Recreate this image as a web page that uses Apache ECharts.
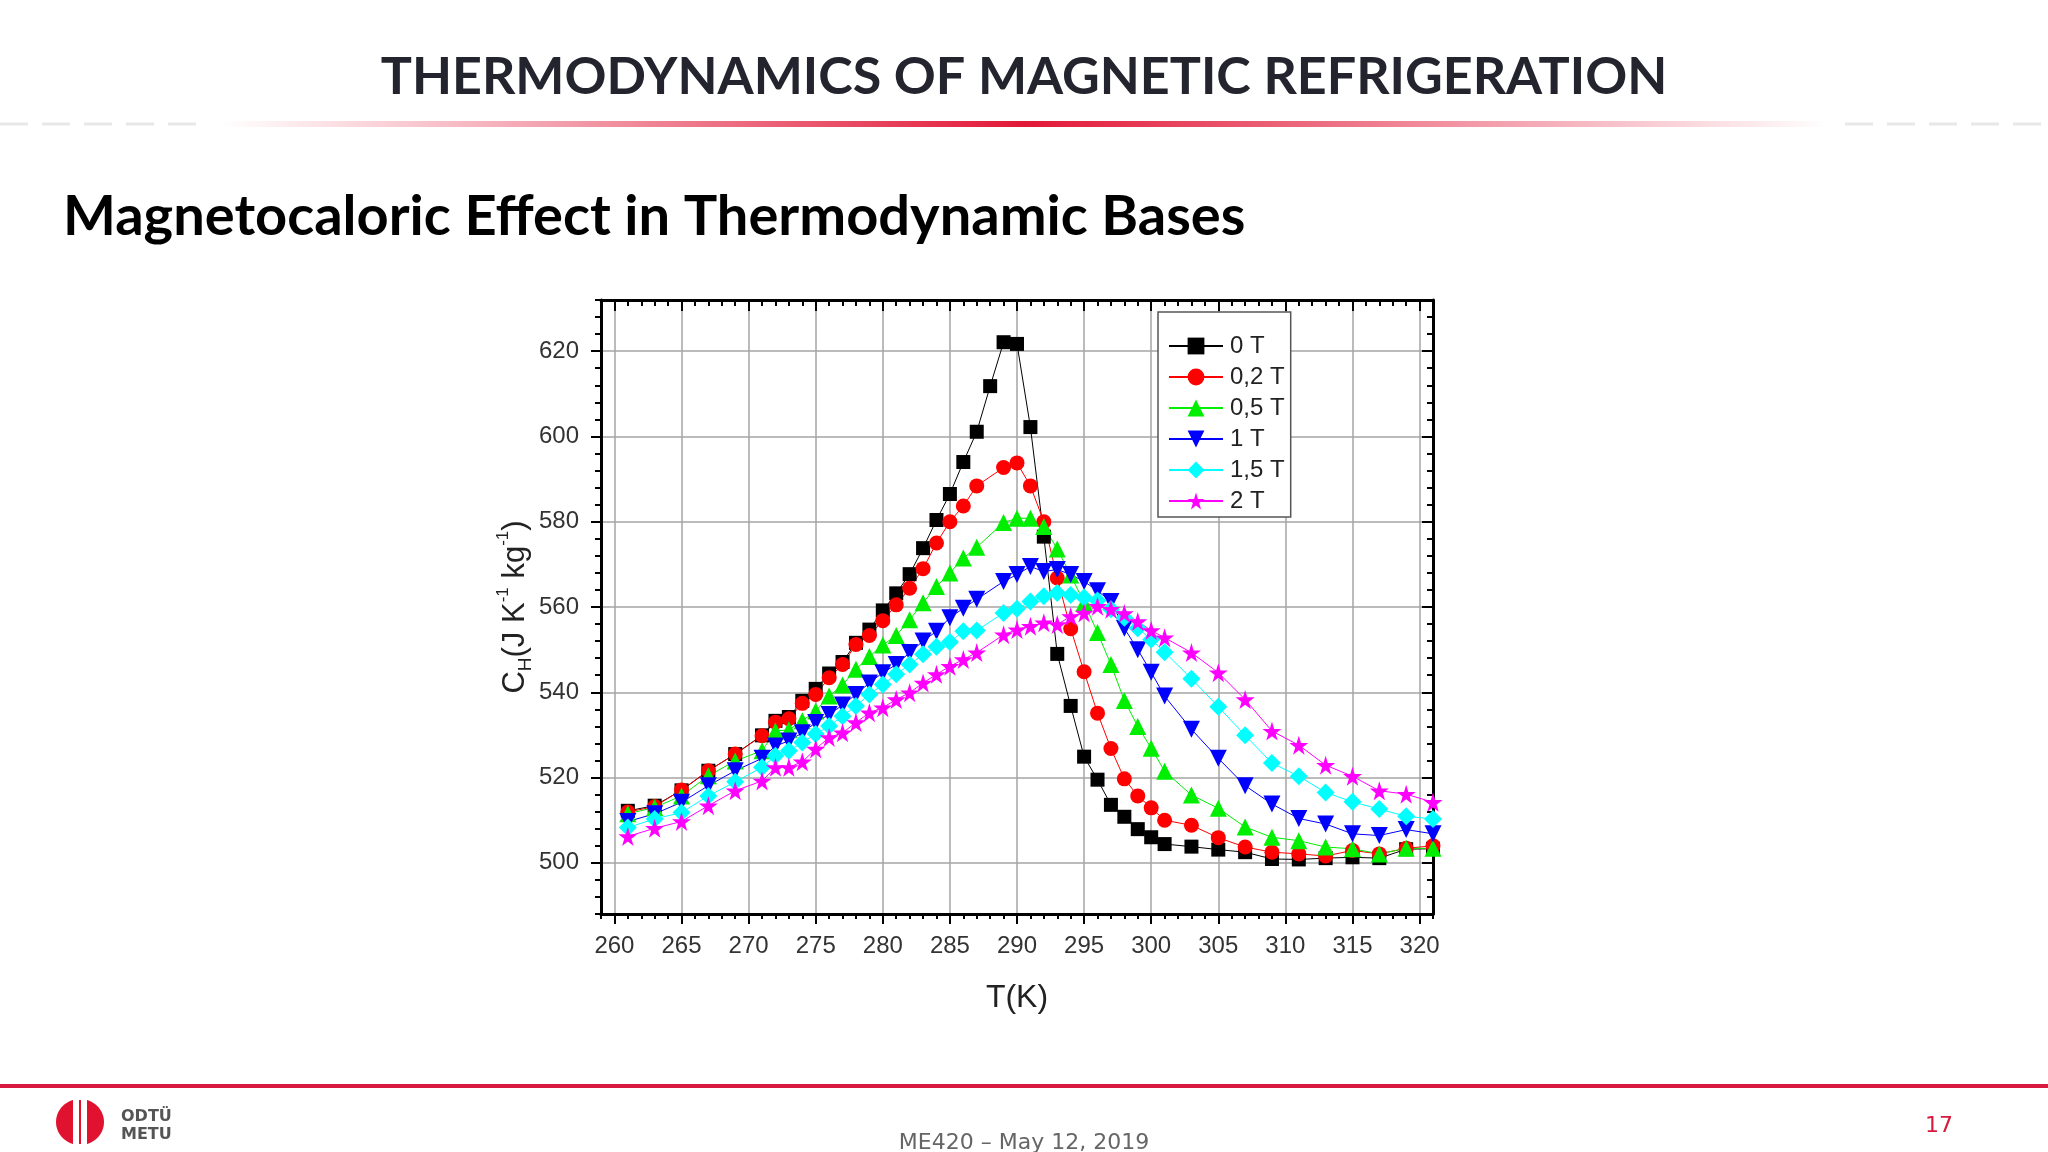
<!DOCTYPE html>
<html>
<head>
<meta charset="utf-8">
<script src="https://cdn.jsdelivr.net/npm/echarts@6/dist/echarts.min.js"></script>
<style>
  html, body { margin: 0; padding: 0; background: #fff; }
  #chart { width: 2048px; height: 1152px; }
</style>
</head>
<body>
<div id="chart"></div>
<script>
// temperatures (K) of the measured points
const tempsZeroField = [261, 263, 265, 267, 269, 271, 272, 273, 274, 275, 276, 277, 278, 279, 280, 281, 282, 283, 284, 285, 286, 287, 288, 289, 290, 291, 292, 293, 294, 295, 296, 297, 298, 299, 300, 301, 303, 305, 307, 309, 311, 313, 315, 317, 319, 321];
const tempsField = [261, 263, 265, 267, 269, 271, 272, 273, 274, 275, 276, 277, 278, 279, 280, 281, 282, 283, 284, 285, 286, 287, 289, 290, 291, 292, 293, 294, 295, 296, 297, 298, 299, 300, 301, 303, 305, 307, 309, 311, 313, 315, 317, 319, 321];

// C_H (J K^-1 kg^-1)
const ch0T = [512.2, 513.4, 517, 521.6, 525.5, 529.9, 533.3, 534.2, 538, 540.8, 544.4, 547.1, 551.6, 554.7, 559.2, 563.2, 567.7, 573.8, 580.4, 586.5, 594, 601.1, 611.8, 622.1, 621.7, 602.2, 576.5, 549, 536.8, 524.9, 519.5, 513.6, 510.8, 507.9, 506, 504.4, 503.8, 503.1, 502.5, 500.9, 500.8, 501.1, 501.3, 501.1, 503.2, 503.3];
const ch02T = [511.9, 513.2, 517.1, 521.6, 525.5, 529.8, 533, 533.8, 537.4, 539.5, 543.4, 546.5, 551.2, 553.3, 556.8, 560.5, 564.4, 569, 575, 580, 583.7, 588.4, 592.7, 593.8, 588.4, 580, 566.8, 554.9, 544.8, 535.1, 526.8, 519.7, 515.7, 512.9, 510, 508.8, 505.9, 503.7, 502.5, 502.1, 501.6, 502.9, 502.1, 503.4, 504];
const ch05T = [511.5, 513, 515.7, 520.4, 523.9, 526.3, 530.9, 531.2, 533.3, 535.6, 539.1, 541.7, 545.4, 548.4, 551.1, 553.3, 557, 561, 564.8, 568, 571.5, 574, 579.8, 580.8, 580.8, 578.9, 573.6, 567.5, 561, 554, 546.5, 538.1, 532, 526.9, 521.5, 515.9, 512.8, 508.4, 506, 505.2, 503.7, 503.3, 502.1, 503.4, 503.4];
const ch1T = [509.7, 511.5, 514.2, 518.1, 521.6, 524.5, 527.4, 528.6, 530.5, 532.9, 534.8, 537, 539.5, 542.2, 544.6, 546.5, 549.3, 552, 554.3, 557.5, 559.7, 561.8, 566, 567.6, 569.5, 568.3, 568.8, 567.6, 566, 563.8, 561.3, 555, 550, 544.7, 539.1, 531.3, 524.5, 518.1, 513.8, 510.4, 509.1, 506.8, 506.4, 507.8, 506.8];
const ch15T = [508.3, 510.3, 511.8, 515.7, 519, 522.4, 525.1, 526.3, 528.2, 530.2, 532.1, 534.4, 536.8, 539.5, 541.8, 544.2, 546.5, 548.9, 550.7, 551.8, 554.3, 554.5, 558.6, 559.6, 561.3, 562.5, 563.3, 562.8, 562.2, 561.5, 559.5, 557.5, 555, 552.4, 549.4, 543.2, 536.6, 529.9, 523.4, 520.3, 516.5, 514.3, 512.6, 510.9, 510.3];
const ch2T = [506.2, 508.1, 509.7, 513.4, 516.9, 519.2, 522.4, 522.4, 523.7, 526.7, 529.4, 530.5, 532.9, 535.2, 536.4, 538.3, 539.9, 542.2, 544.2, 546.1, 547.7, 549.3, 553.5, 554.7, 555.5, 556.3, 555.9, 557.8, 558.6, 560.2, 559.5, 558.5, 556.6, 554.5, 552.8, 549.3, 544.6, 538.3, 530.9, 527.6, 522.9, 520.3, 516.9, 516.1, 514.2];

const fieldNames = ['0 T', '0,2 T', '0,5 T', '1 T', '1,5 T', '2 T'];

const chart = echarts.init(document.getElementById('chart'));
const font = 'Liberation Sans, Arial, sans-serif';
const starPath = 'path://M50,0 L61,35 L98,35 L68,57 L79,91 L50,70 L21,91 L32,57 L2,35 L39,35 Z';
const pairs = (temps, vals) => temps.map((t, i) => [t, vals[i]]);

const grid = { left: 601, top: 300, width: 832, height: 614 };
const frame = { color: '#000', width: 3 };
const gridLine = { color: '#a4a4a4', width: 1.5 };

function series(name, temps, vals, color, symbol, size, rotate) {
  return {
    name: name,
    type: 'line',
    xAxisIndex: 0,
    yAxisIndex: 0,
    data: pairs(temps, vals),
    symbol: symbol,
    symbolSize: size,
    symbolRotate: rotate || 0,
    lineStyle: { width: 1, color: color },
    itemStyle: { color: color },
    emphasis: { disabled: true }
  };
}

const options = {
  animation: false,
  backgroundColor: '#fff',
  title: [
    {
      text: 'THERMODYNAMICS OF MAGNETIC REFRIGERATION',
      left: 'center', top: 46,
      textStyle: { fontFamily: 'Lato', fontWeight: 'bold', fontSize: 52, color: '#24242e' }
    },
    {
      text: 'Magnetocaloric Effect in Thermodynamic Bases',
      left: 58, top: 184,
      textStyle: { fontFamily: 'Lato', fontWeight: 'bold', fontSize: 56, color: '#000' }
    },
    {
      text: 'ME420 – May 12, 2019',
      left: 'center', top: 1127,
      textStyle: { fontFamily: 'DejaVu Sans', fontWeight: 'normal', fontSize: 22, color: '#666' }
    },
    {
      text: '17',
      left: 1920, top: 1110,
      textStyle: { fontFamily: 'DejaVu Sans', fontWeight: 'normal', fontSize: 22, color: '#d6193c' }
    },
    {
      text: 'ODTÜ\nMETU',
      left: 116, top: 1103,
      textStyle: { fontFamily: 'DejaVu Sans', fontWeight: 'bold', fontSize: 16, lineHeight: 18, color: '#555' }
    }
  ],
  graphic: [
    {
      type: 'rect', shape: { x: 222, y: 121, width: 1606, height: 6 },
      style: {
        fill: new echarts.graphic.LinearGradient(0, 0, 1, 0, [
          { offset: 0, color: 'rgba(226,24,56,0)' },
          { offset: 0.5, color: 'rgba(226,24,56,1)' },
          { offset: 1, color: 'rgba(226,24,56,0)' }
        ])
      }
    },
    { type: 'line', shape: { x1: 0, y1: 124, x2: 205, y2: 124 }, style: { stroke: '#e8e8e8', lineWidth: 3, lineDash: [28, 14] } },
    { type: 'line', shape: { x1: 1845, y1: 124, x2: 2048, y2: 124 }, style: { stroke: '#e8e8e8', lineWidth: 3, lineDash: [28, 14] } },
    { type: 'rect', shape: { x: 0, y: 1084, width: 2048, height: 4 }, style: { fill: '#d6193c' } },
    { type: 'ellipse', shape: { cx: 80, cy: 1122, rx: 24, ry: 23 }, style: { fill: '#e0122f' } },
    { type: 'rect', shape: { x: 73, y: 1097, width: 14, height: 50 }, style: { fill: '#fff' } },
    { type: 'rect', shape: { x: 79, y: 1100, width: 2, height: 44 }, style: { fill: '#e0122f' } }
  ],
  grid: grid,
  legend: {
    orient: 'vertical',
    left: 1158, top: 312,
    padding: [22, 6, 4, 10],
    itemWidth: 54, itemHeight: 21, itemGap: 7,
    borderColor: '#555', borderWidth: 1.5,
    backgroundColor: '#fff',
    textStyle: { fontFamily: font, fontSize: 24, color: '#222', padding: [0, 0, 0, 2] },
    data: fieldNames
  },
  xAxis: [
    {
      type: 'value', position: 'bottom', min: 259, max: 321, minInterval: 5, maxInterval: 5,
      axisLine: { show: true, lineStyle: frame },
      axisTick: { show: true, inside: false, length: 10, lineStyle: { color: '#000', width: 2 } },
      axisLabel: { fontFamily: font, fontSize: 24, color: '#333', margin: 20, showMinLabel: false, showMaxLabel: false },
      splitLine: { show: true, lineStyle: gridLine },
      name: 'T(K)', nameLocation: 'middle', nameGap: 68,
      nameTextStyle: { fontFamily: font, fontSize: 32, color: '#222' }
    },
    {
      type: 'value', position: 'bottom', min: 259, max: 321, interval: 1,
      axisLine: { show: false }, axisLabel: { show: false }, splitLine: { show: false },
      axisTick: { show: true, inside: false, length: 5, lineStyle: { color: '#000', width: 2 } }
    },
    {
      type: 'value', position: 'top', min: 259, max: 321, minInterval: 5, maxInterval: 5,
      axisLine: { show: true, lineStyle: frame }, axisLabel: { show: false }, splitLine: { show: false },
      axisTick: { show: true, inside: true, length: 11, lineStyle: { color: '#000', width: 2 } }
    },
    {
      type: 'value', position: 'top', min: 259, max: 321, interval: 1,
      axisLine: { show: false }, axisLabel: { show: false }, splitLine: { show: false },
      axisTick: { show: true, inside: true, length: 6, lineStyle: { color: '#000', width: 2 } }
    }
  ],
  yAxis: [
    {
      type: 'value', position: 'left', min: 488, max: 632, minInterval: 20, maxInterval: 20,
      axisLine: { show: true, lineStyle: frame },
      axisTick: { show: true, inside: false, length: 10, lineStyle: { color: '#000', width: 2 } },
      axisLabel: { fontFamily: font, fontSize: 24, color: '#333', margin: 22, showMinLabel: false, showMaxLabel: false },
      splitLine: { show: true, lineStyle: gridLine },
      name: '{a|C}{sub|H}{a|(J K}{sup|-1}{a| kg}{sup|-1}{a|)}',
      nameLocation: 'middle', nameGap: 66,
      nameTextStyle: {
        fontFamily: font, color: '#222',
        rich: {
          a: { fontFamily: font, fontSize: 31, lineHeight: 40, color: '#222' },
          sub: { fontFamily: font, fontSize: 19, verticalAlign: 'bottom', color: '#222' },
          sup: { fontFamily: font, fontSize: 17, verticalAlign: 'top', color: '#222' }
        }
      }
    },
    {
      type: 'value', position: 'left', min: 488, max: 632, interval: 4,
      axisLine: { show: false }, axisLabel: { show: false }, splitLine: { show: false },
      axisTick: { show: true, inside: false, length: 6, lineStyle: { color: '#000', width: 2 } }
    },
    {
      type: 'value', position: 'right', min: 488, max: 632, minInterval: 20, maxInterval: 20,
      axisLine: { show: true, lineStyle: frame }, axisLabel: { show: false }, splitLine: { show: false },
      axisTick: { show: true, inside: true, length: 11, lineStyle: { color: '#000', width: 2 } }
    },
    {
      type: 'value', position: 'right', min: 488, max: 632, interval: 4,
      axisLine: { show: false }, axisLabel: { show: false }, splitLine: { show: false },
      axisTick: { show: true, inside: true, length: 6, lineStyle: { color: '#000', width: 2 } }
    }
  ],
  series: [
    series(fieldNames[0], tempsZeroField, ch0T, '#000000', 'rect', 14),
    series(fieldNames[1], tempsField, ch02T, '#ff0000', 'circle', 15),
    series(fieldNames[2], tempsField, ch05T, '#00ee00', 'triangle', 17),
    series(fieldNames[3], tempsField, ch1T, '#0000ff', 'triangle', 17, 180),
    series(fieldNames[4], tempsField, ch15T, '#00ffff', 'diamond', 18),
    series(fieldNames[5], tempsField, ch2T, '#ff00ff', starPath, 19)
  ]
};

chart.setOption(options);
</script>
</body>
</html>
